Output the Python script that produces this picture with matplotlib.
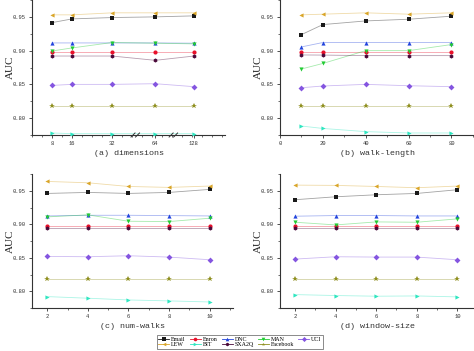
import matplotlib
matplotlib.use("Agg")
import matplotlib.pyplot as plt
from matplotlib.ticker import AutoMinorLocator, MultipleLocator
import matplotlib.transforms as mtransforms
from matplotlib.lines import Line2D

series = ["Email", "Enron", "DNC", "MAN", "UCI", "LEW", "BIT", "SXA2Q", "Facebook"]
colors = ["#1a1a1a", "#e8102a", "#2244dd", "#22cc33", "#8455e0", "#d9a528", "#2ee6c0", "#4a0a3a", "#8f8f1e"]
markers = ["s", "o", "^", "v", "D", "<", ">", "h", "*"]

# (a) dimensions
dim_labels = ["8", "16", "32", "64", "128"]
dim_pos = [8, 16, 32, 49.2, 64.6]
dim_vals = {
    "Email":    [0.9415, 0.947, 0.949, 0.950, 0.9515],
    "Enron":    [0.8975, 0.8975, 0.8975, 0.8975, 0.8975],
    "DNC":      [0.9114, 0.9114, 0.9114, 0.9114, 0.911],
    "MAN":      [0.8995, 0.904, 0.912, 0.911, 0.910],
    "UCI":      [0.8485, 0.850, 0.850, 0.851, 0.8466],
    "LEW":      [0.953, 0.953, 0.956, 0.956, 0.956],
    "BIT":      [0.778, 0.777, 0.777, 0.777, 0.777],
    "SXA2Q":    [0.892, 0.892, 0.892, 0.8856, 0.892],
    "Facebook": [0.818, 0.818, 0.818, 0.818, 0.818],
}

# (b) walk-length
wl_x = [10, 20, 40, 60, 80]
wl_vals = {
    "Email":    [0.9237, 0.9386, 0.944, 0.9465, 0.951],
    "Enron":    [0.8975, 0.8975, 0.8975, 0.8975, 0.8975],
    "DNC":      [0.9055, 0.912, 0.912, 0.912, 0.912],
    "MAN":      [0.8728, 0.881, 0.900, 0.900, 0.909],
    "UCI":      [0.845, 0.8476, 0.850, 0.848, 0.8466],
    "LEW":      [0.953, 0.954, 0.956, 0.954, 0.956],
    "BIT":      [0.7883, 0.7847, 0.780, 0.778, 0.778],
    "SXA2Q":    [0.8936, 0.8934, 0.8926, 0.8926, 0.8926],
    "Facebook": [0.818, 0.818, 0.818, 0.818, 0.818],
}

# (c) num-walks
nw_x = [2, 4, 6, 8, 10]
nw_vals = {
    "Email":    [0.946, 0.9475, 0.946, 0.9475, 0.952],
    "Enron":    [0.8975, 0.8975, 0.8975, 0.8975, 0.8975],
    "DNC":      [0.9124, 0.9134, 0.9134, 0.9129, 0.9124],
    "MAN":      [0.911, 0.914, 0.9045, 0.904, 0.909],
    "UCI":      [0.852, 0.8515, 0.853, 0.851, 0.847],
    "LEW":      [0.9639, 0.9619, 0.9564, 0.955, 0.957],
    "BIT":      [0.792, 0.7896, 0.787, 0.7856, 0.784],
    "SXA2Q":    [0.894, 0.894, 0.894, 0.894, 0.894],
    "Facebook": [0.818, 0.818, 0.818, 0.818, 0.818],
}

# (d) window-size
ws_x = [2, 4, 6, 8, 10]
ws_vals = {
    "Email":    [0.9366, 0.941, 0.944, 0.946, 0.9515],
    "Enron":    [0.8975, 0.8975, 0.8975, 0.8975, 0.8975],
    "DNC":      [0.912, 0.913, 0.913, 0.9124, 0.9124],
    "MAN":      [0.903, 0.899, 0.9035, 0.903, 0.908],
    "UCI":      [0.848, 0.8515, 0.851, 0.851, 0.847],
    "LEW":      [0.9584, 0.958, 0.9564, 0.9545, 0.957],
    "BIT":      [0.795, 0.7936, 0.7926, 0.793, 0.7916],
    "SXA2Q":    [0.8945, 0.8945, 0.8945, 0.8945, 0.8945],
    "Facebook": [0.818, 0.818, 0.818, 0.818, 0.818],
}

W, H = 474, 351
fig = plt.figure(figsize=(W / 100, H / 100), dpi=100)

def frac(left, top, right, bottom):
    return [left / W, 1 - bottom / H, (right - left) / W, (bottom - top) / H]

mono = "Liberation Mono"
serif = "Liberation Serif"

def style(ax, xlabel, width_px):
    ax.set_ylim(0.775, 0.975)
    ax.set_yticks([0.80, 0.85, 0.90, 0.95])
    ax.set_yticklabels(["0.80", "0.85", "0.90", "0.95"])
    ax.yaxis.set_minor_locator(MultipleLocator(0.025))
    for s in ["top", "right"]:
        ax.spines[s].set_visible(False)
    for s in ["left", "bottom"]:
        ax.spines[s].set_linewidth(0.8)
        ax.spines[s].set_color("#333333")
    ax.tick_params(which="major", length=2.5, width=0.6, labelsize=4, pad=2, colors="#333333")
    ax.tick_params(which="minor", length=1.5, width=0.5, colors="#333333")
    for lab in ax.get_xticklabels() + ax.get_yticklabels():
        lab.set_family(mono)
    ax.set_xlabel(xlabel, fontsize=6, family=mono, labelpad=3, color="#333333")
    ax.set_ylabel("AUC", fontsize=8, family=serif, color="#222222", va="center")
    ax.yaxis.set_label_coords(-22 / width_px, 0.5)

def draw(ax, xs, vals):
    for name, c, m in zip(series, colors, markers):
        ax.plot(xs, vals[name], color=c, lw=0.6, alpha=0.4, zorder=2)
        ms = 3.0 if m != "*" else 3.8
        ax.plot(xs, vals[name], ls="none", marker=m, color=c, ms=ms, mew=0, zorder=3, label=name)

# (a)
ax_a = fig.add_axes(frac(32, 0, 225, 135))
draw(ax_a, dim_pos, dim_vals)
ax_a.set_xlim(0, 77)
ax_a.set_xticks(dim_pos)
ax_a.set_xticklabels(dim_labels)
style(ax_a, "(a) dimensions", 193)
ax_a.xaxis.set_minor_locator(AutoMinorLocator(2))
trans = mtransforms.blended_transform_factory(ax_a.transData, ax_a.transAxes)
for bx in [41.2, 56.4]:
    for off in [-0.9, 0.9]:
        ax_a.plot([bx + off - 0.8, bx + off + 0.8], [-0.015, 0.015], transform=trans,
                  color="#333333", lw=0.7, clip_on=False, zorder=5)

# (b)
ax_b = fig.add_axes(frac(280, 0, 474, 135))
draw(ax_b, wl_x, wl_vals)
ax_b.set_xlim(0, 90.5)
ax_b.set_xticks([0, 20, 40, 60, 80])
style(ax_b, "(b) walk-length", 194)
ax_b.xaxis.set_minor_locator(AutoMinorLocator(2))

# (c)
ax_c = fig.add_axes(frac(32, 174, 233, 308))
draw(ax_c, nw_x, nw_vals)
ax_c.set_xlim(1.25, 11.15)
ax_c.set_xticks([2, 4, 6, 8, 10])
style(ax_c, "(c) num-walks", 201)
ax_c.xaxis.set_minor_locator(AutoMinorLocator(2))

# (d)
ax_d = fig.add_axes(frac(280, 174, 474, 308))
draw(ax_d, ws_x, ws_vals)
ax_d.set_xlim(1.26, 10.82)
ax_d.set_xticks([2, 4, 6, 8, 10])
style(ax_d, "(d) window-size", 194)
ax_d.xaxis.set_minor_locator(AutoMinorLocator(2))

# legend
handles = []
for name, c, m in zip(series, colors, markers):
    handles.append(Line2D([0], [0], color=c, lw=0.6, marker=m, ms=2.6, mew=0, label=name))
order = [0, 5, 1, 6, 2, 7, 3, 8, 4]
leg = fig.legend([handles[i] for i in order], [series[i] for i in order],
                 ncol=5, loc="center", bbox_to_anchor=(240 / W, 1 - 342 / H),
                 prop={"family": serif, "size": 4.3}, frameon=True, fancybox=False,
                 edgecolor="#555555", handlelength=1.8, handletextpad=0.35,
                 columnspacing=0.7, borderpad=0.2, labelspacing=0.1)
leg.get_frame().set_linewidth(0.6)

fig.savefig("out.png", dpi=100)
